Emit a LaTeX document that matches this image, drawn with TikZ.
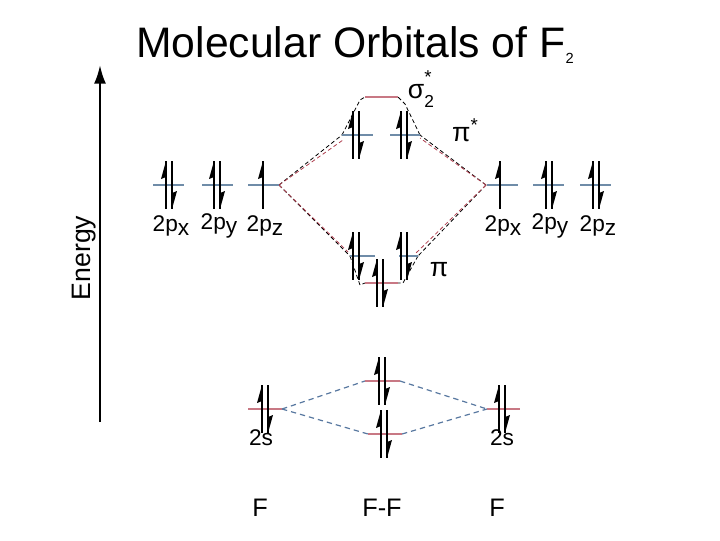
\documentclass[tikz,border=0pt]{standalone}
\usepackage{fontspec}
\setmainfont{Liberation Sans}
\usetikzlibrary{arrows.meta}
\definecolor{lb}{HTML}{6F8CA8}
\definecolor{lr}{HTML}{C87884}
\definecolor{dred}{HTML}{B04050}
\definecolor{dblue}{HTML}{5878A0}
\begin{document}
\begin{tikzpicture}[x=0.75pt,y=-0.75pt,
  lvb/.style={draw=lb,line width=1.8pt},
  lvr/.style={draw=lr,line width=1.8pt},
  dk/.style={draw=black,dash pattern=on 3pt off 2pt,line width=0.6pt},
  dr/.style={draw=dred,dash pattern=on 3pt off 2pt,line width=0.6pt},
  db/.style={draw=dblue,dash pattern=on 4pt off 3pt,line width=0.9pt},
  lbl/.style={font=\fontsize{17}{17}\selectfont,inner sep=0pt}]
\useasboundingbox (0,0) rectangle (720,540);
\newcommand\upe[2]{\draw[line width=0.8pt] (#1-3,#2-24)--(#1-3,#2+24);
  \fill (#1-3,#2-24)--(#1-8,#2-6)--(#1-3,#2-8)--cycle;}
\newcommand\dne[2]{\draw[line width=0.8pt] (#1+3,#2-24)--(#1+3,#2+24);
  \fill (#1+3,#2+24)--(#1+8,#2+6)--(#1+3,#2+8)--cycle;}
\newcommand\pr[2]{\upe{#1}{#2}\dne{#1}{#2}}
% title
\node[font=\fontsize{32}{32}\selectfont] (t) at (355,45) {Molecular Orbitals of F\raisebox{-0.3ex}{\fontsize{11}{11}\selectfont 2}};
% energy
\coordinate (e0) at (100,422); \coordinate (e1) at (100,65);
\draw[line width=1.8pt,-{Latex[length=14pt,width=9pt]}] (e0)--(e1);
\node[rotate=90,font=\fontsize{20}{20}\selectfont] (en) at (84,258) {Energy};
% dashed connectors p
\coordinate (Lz) at (279,185); \coordinate (Rx) at (486,185);
\draw[dk] (Lz)--(342,135); \draw[dr] (Lz)--(343,140);
\draw[dk] (342,135)--(360,100)--(365,97);
\draw[dk] (Lz)--(350,256); \draw[dr] (Lz)--(348,252);
\draw[dk] (350,256)--(360,285)--(365,283);
\draw[dk] (Rx)--(420,135); \draw[dr] (Rx)--(420,138);
\draw[dk] (420,135)--(405,104)--(398,97);
\draw[dk] (Rx)--(418,256); \draw[dr] (Rx)--(416,253);
\draw[dk] (418,256)--(403,283)--(398,283);
% 2s connectors
\coordinate (Ls) at (282,409); \coordinate (Rs) at (487,409);
\draw[db] (Ls)--(365,381); \draw[db] (Ls)--(368,434);
\draw[db] (400,381)--(Rs); \draw[db] (402,434)--(Rs);
% levels
\foreach \a in {153,202,248,487,533,580}{\draw[lvb] (\a,185)--(\a+31,185);}
\draw[lvb] (342,135)--(373,135); \draw[lvb] (390,135)--(420,135);
\draw[lvb] (350,256)--(375,256); \draw[lvb] (399,256)--(418,256);
\draw[lvr] (365,97)--(398,97);
\draw[lvr] (365,283)--(398,283);
\draw[lvr] (248,409)--(282,409); \draw[lvr] (487,409)--(520,409);
\draw[lvr] (365,381)--(400,381); \draw[lvr] (368,434)--(402,434);
% electrons
\pr{169}{185}\pr{217}{185}\upe{266}{185}
\upe{503}{185}\pr{549}{185}\pr{596}{185}
\pr{356}{135}\pr{404}{135}
\pr{356}{256}\pr{404}{256}\pr{380}{283}
\pr{265}{409}\pr{502}{409}\pr{382}{381}\pr{384}{434}
% labels
\node[lbl] (l1) at (171,226) {2p\raisebox{-0.35ex}{x}};
\node[lbl] (l2) at (219,226) {2p\raisebox{-0.35ex}{y}};
\node[lbl] (l3) at (265,226) {2p\raisebox{-0.35ex}{z}};
\node[lbl] (r1) at (503,226) {2p\raisebox{-0.35ex}{x}};
\node[lbl] (r2) at (550,226) {2p\raisebox{-0.35ex}{y}};
\node[lbl] (r3) at (598,226) {2p\raisebox{-0.35ex}{z}};
\node[font=\fontsize{20}{20}\selectfont] (s) at (421,89) {σ\rlap{\raisebox{1.1ex}{\fontsize{14}{14}\selectfont*}}\raisebox{-0.6ex}{\fontsize{13}{13}\selectfont 2}};
\node[font=\fontsize{20}{20}\selectfont] (ps) at (465,130) {π\raisebox{0.7ex}{\fontsize{14}{14}\selectfont*}};
\node[font=\fontsize{20}{20}\selectfont] (p) at (439,270) {π};
\node[lbl] (s1) at (261,438) {2s};
\node[lbl] (s2) at (502,438) {2s};
\node[inner sep=0pt,font=\fontsize{19}{19}\selectfont] (f1) at (260,508) {F};
\node[inner sep=0pt,font=\fontsize{19}{19}\selectfont] (f2) at (382,508) {F-F};
\node[inner sep=0pt,font=\fontsize{19}{19}\selectfont] (f3) at (497,508) {F};
\end{tikzpicture}
\end{document}
